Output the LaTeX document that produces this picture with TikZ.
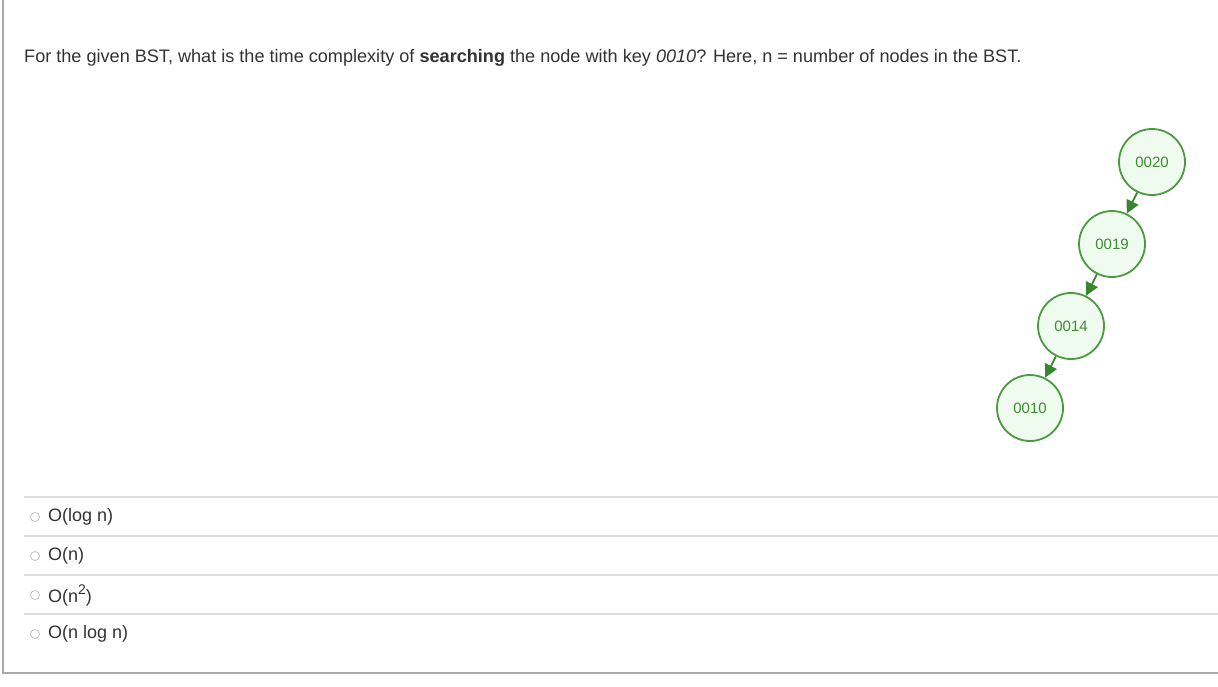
\documentclass[tikz,border=0pt]{standalone}
\usepackage{fontspec}
\setmainfont{Liberation Sans}
\usetikzlibrary{arrows.meta}
\definecolor{txt}{HTML}{333333}
\definecolor{sep}{HTML}{DDDDDD}
\definecolor{frame}{HTML}{AAAAAA}
\definecolor{nodefill}{HTML}{F0FBEF}
\definecolor{nodedraw}{HTML}{4C9A40}
\definecolor{nodetext}{HTML}{3E8A33}
\definecolor{edge}{HTML}{3A8530}
\tikzset{
  bstnode/.style={circle, draw=nodedraw, fill=nodefill, line width=1.8pt, minimum size=66pt, inner sep=0pt, text=nodetext, font=\fontsize{15}{17}\selectfont},
  bstedge/.style={draw=edge, line width=1.8pt, -{Triangle[length=13pt,width=13pt]}},
  option/.style={anchor=west, text=txt, font=\fontsize{18}{21}\selectfont, inner sep=0pt},
  radio/.style={circle, draw=frame!80, line width=0.7pt, minimum size=9pt, inner sep=0pt},
  sepline/.style={draw=sep, line width=1.5pt},
}
\begin{document}
\begin{tikzpicture}[x=1pt,y=-1pt]
\useasboundingbox (0,0) rectangle (1218,686);
\fill[white] (0,0) rectangle (1218,686);
\draw[frame, line width=2pt] (3,0) -- (3,673) -- (1218,673);
\node[anchor=west, text=txt, font=\fontsize{18.1}{21}\selectfont, inner sep=0pt] (q) at (24,58)
  {For the given BST, what is the time complexity of \textbf{searching} the node with key \textit{0010}? Here, n = number of nodes in the BST.};
\node[bstnode] (n20) at (1152,162) {0020};
\node[bstnode] (n19) at (1112,244) {0019};
\node[bstnode] (n14) at (1071,326) {0014};
\node[bstnode] (n10) at (1030,408) {0010};
\draw[bstedge] (n20) -- (n19);
\draw[bstedge] (n19) -- (n14);
\draw[bstedge] (n14) -- (n10);
\coordinate (s1a) at (24,497); \coordinate (s1b) at (1218,497);
\coordinate (s2a) at (24,536); \coordinate (s2b) at (1218,536);
\coordinate (s3a) at (24,575); \coordinate (s3b) at (1218,575);
\coordinate (s4a) at (24,614); \coordinate (s4b) at (1218,614);
\draw[sepline] (s1a) -- (s1b);
\draw[sepline] (s2a) -- (s2b);
\draw[sepline] (s3a) -- (s3b);
\draw[sepline] (s4a) -- (s4b);
\node[radio] (r1) at (35,517) {};
\node[radio] (r2) at (35,556) {};
\node[radio] (r3) at (35,595) {};
\node[radio] (r4) at (35,634) {};
\node[option] (o1) at (48,517) {O(log n)};
\node[option] (o2) at (48,556) {O(n)};
\node[option] (o3) at (48,595) {O(n\raisebox{8pt}{\fontsize{14}{14}\selectfont 2})};
\node[option] (o4) at (48,634) {O(n log n)};
\end{tikzpicture}
\end{document}
